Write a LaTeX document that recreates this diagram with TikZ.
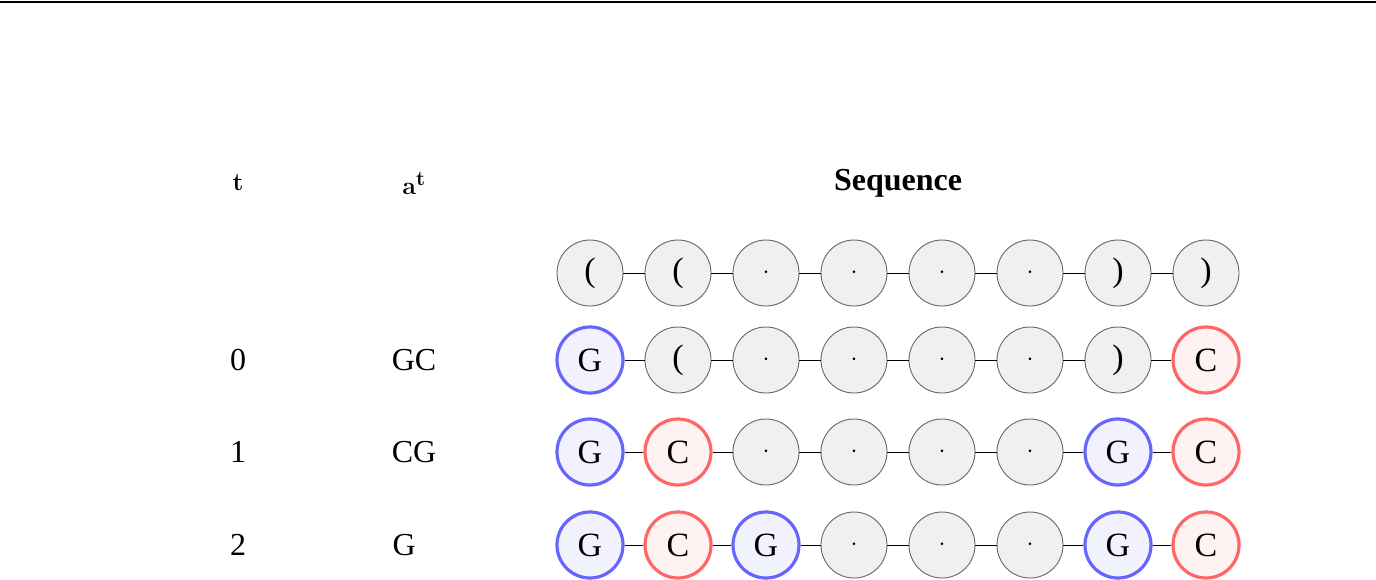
\documentclass[tikz,border=0pt]{standalone}
\usepackage[no-math]{fontspec}
\setmainfont{Liberation Serif}
\begin{document}
\begin{tikzpicture}[x=1pt,y=-1pt,
  base/.style={circle,minimum size=66pt,inner sep=0pt,font=\fontsize{34}{36}\selectfont},
  dotc/.style={base,draw=black!60,line width=0.9pt,fill=black!6},
  gc/.style={base,draw=blue!60!white,line width=3.2pt,fill=blue!5},
  cc/.style={base,draw=red!60!white,line width=3.2pt,fill=red!5},
  lab/.style={font=\fontsize{32}{34}\selectfont},
  hdr/.style={font=\fontsize{32}{34}\selectfont\bfseries}]
\useasboundingbox (0,0) rectangle (1376,579);
\draw[line width=1.2pt] (0,2) -- (1376,2);
\node[hdr] (ht) at (238,183) {$\mathbf{t}$};
\node[hdr] (ha) at (414,183) {$\mathbf{a^t}$};
\node[hdr] (hs) at (898,183) {Sequence};
\def\symo{(}\def\symx{)}\def\symd{$\cdot$}\def\symG{G}\def\symC{C}
\foreach \r/\y/\row in {a/273/{o,o,d,d,d,d,x,x},b/360/{G,o,d,d,d,d,x,C},c/452/{G,C,d,d,d,d,G,C},d/545/{G,C,G,d,d,d,G,C}}{
  \foreach [count=\i] \k in \row {
    \if\k G\def\sty{gc}\else\if\k C\def\sty{cc}\else\def\sty{dotc}\fi\fi
    \node[\sty] (n\r\i) at ({590+88*(\i-1)},\y) {\csname sym\k\endcsname};
  }
  \foreach \i [evaluate=\i as \j using int(\i+1)] in {1,...,7}{
    \draw[line width=0.9pt] (n\r\i) -- (n\r\j);
  }
}
\node[lab] (t0) at (238,360) {0}; \node[lab] (a0) at (414,360) {GC};
\node[lab] (t1) at (238,452) {1}; \node[lab] (a1) at (414,452) {CG};
\node[lab] (t2) at (238,545) {2}; \node[lab,anchor=west] (a2) at (389,545) {G};
\end{tikzpicture}
\end{document}
